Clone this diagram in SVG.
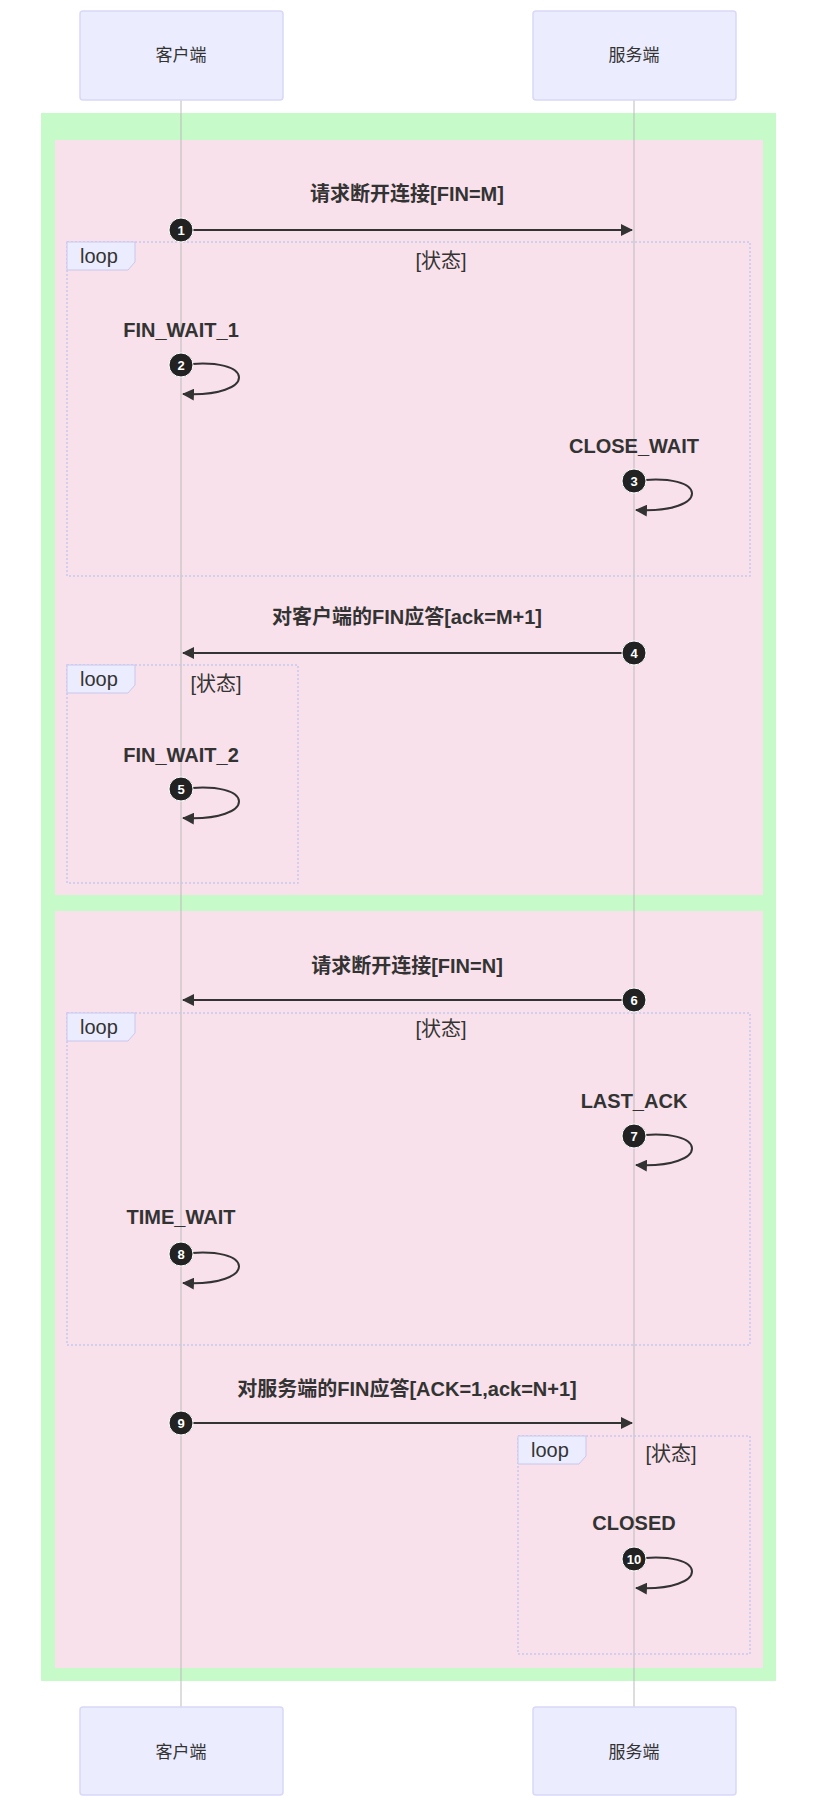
<svg xmlns="http://www.w3.org/2000/svg" width="838" height="1796" viewBox="0 0 838 1796">
<style>
.actor{fill:#ECECFF;stroke:#d8d8f8;stroke-width:1.5}
.at{font-family:"Liberation Sans","Noto Sans CJK SC",sans-serif;font-size:17px;fill:#333;text-anchor:middle}
.life{stroke:#bbb;stroke-width:1}
.mt{font-family:"Liberation Sans","Noto Sans CJK SC",sans-serif;font-size:20px;font-weight:bold;fill:#333;text-anchor:middle}
.msg{stroke:#333;stroke-width:2;fill:none}
.frame{fill:none;stroke:#c8c8f0;stroke-width:1.5;stroke-dasharray:2,2}
.tab{fill:#ECECFF;stroke:#c8c8f0;stroke-width:1}
.lt{font-family:"Liberation Sans","Noto Sans CJK SC",sans-serif;font-size:20px;fill:#333}
.num{fill:#222;stroke:#fff;stroke-width:1}
.nt{font-family:"Liberation Sans",sans-serif;font-size:13px;font-weight:bold;fill:#fff;text-anchor:middle}
</style>
<defs>
<marker id="ah" viewBox="0 0 12 12" refX="11" refY="6" markerWidth="12" markerHeight="12" markerUnits="userSpaceOnUse" orient="auto"><path d="M0,0 L12,6 L0,12 z" fill="#333"/></marker>
</defs>
<rect x="41" y="113" width="735" height="1568" fill="#C6FAC8"/>
<rect x="55" y="140" width="708" height="755" fill="#F8E1EB"/>
<rect x="55" y="911" width="708" height="757" fill="#F8E1EB"/>
<g id="lifelines">
<line class="life" x1="181" y1="100" x2="181" y2="1707"/>
<line class="life" x1="634" y1="100" x2="634" y2="1707"/>
</g>
<g id="actor-client-top"><rect class="actor" x="80" y="11" width="203" height="89" rx="3"/><text class="at" x="181" y="61">客户端</text></g>
<g id="actor-server-top"><rect class="actor" x="533" y="11" width="203" height="89" rx="3"/><text class="at" x="634" y="61">服务端</text></g>
<g id="actor-client-bottom"><rect class="actor" x="80" y="1707" width="203" height="88" rx="3"/><text class="at" x="181" y="1758">客户端</text></g>
<g id="actor-server-bottom"><rect class="actor" x="533" y="1707" width="203" height="88" rx="3"/><text class="at" x="634" y="1758">服务端</text></g>
<g id="loop1"><rect class="frame" x="67" y="242" width="683" height="334"/><polygon class="tab" points="67,242 135,242 135,262 128,270 67,270"/><text class="lt" x="80" y="263">loop</text><text class="lt" x="441" y="268" text-anchor="middle">[状态]</text></g>
<g id="loop2"><rect class="frame" x="67" y="665" width="231" height="218"/><polygon class="tab" points="67,665 135,665 135,685 128,693 67,693"/><text class="lt" x="80" y="686">loop</text><text class="lt" x="216" y="691" text-anchor="middle">[状态]</text></g>
<g id="loop3"><rect class="frame" x="67" y="1013" width="683" height="332"/><polygon class="tab" points="67,1013 135,1013 135,1033 128,1041 67,1041"/><text class="lt" x="80" y="1034">loop</text><text class="lt" x="441" y="1036" text-anchor="middle">[状态]</text></g>
<g id="loop4"><rect class="frame" x="518" y="1436" width="232" height="218"/><polygon class="tab" points="518,1436 586,1436 586,1456 579,1464 518,1464"/><text class="lt" x="531" y="1457">loop</text><text class="lt" x="671" y="1461" text-anchor="middle">[状态]</text></g>
<g id="connectors">
<text class="mt" x="407" y="201">请求断开连接[FIN=M]</text>
<line class="msg" x1="181" y1="230" x2="632" y2="230" marker-end="url(#ah)"/>
<text class="mt" x="181" y="337">FIN_WAIT_1</text>
<path class="msg" d="M181,365 C258,355 258,398 183,394" marker-end="url(#ah)"/>
<text class="mt" x="634" y="453">CLOSE_WAIT</text>
<path class="msg" d="M634,481 C711,471 711,514 636,510" marker-end="url(#ah)"/>
<text class="mt" x="407" y="624">对客户端的FIN应答[ack=M+1]</text>
<line class="msg" x1="634" y1="653" x2="183" y2="653" marker-end="url(#ah)"/>
<text class="mt" x="181" y="762">FIN_WAIT_2</text>
<path class="msg" d="M181,789 C258,779 258,822 183,818" marker-end="url(#ah)"/>
<text class="mt" x="407" y="973">请求断开连接[FIN=N]</text>
<line class="msg" x1="634" y1="1000" x2="183" y2="1000" marker-end="url(#ah)"/>
<text class="mt" x="634" y="1108">LAST_ACK</text>
<path class="msg" d="M634,1136 C711,1126 711,1169 636,1165" marker-end="url(#ah)"/>
<text class="mt" x="181" y="1224">TIME_WAIT</text>
<path class="msg" d="M181,1254 C258,1244 258,1287 183,1283" marker-end="url(#ah)"/>
<text class="mt" x="407" y="1396">对服务端的FIN应答[ACK=1,ack=N+1]</text>
<line class="msg" x1="181" y1="1423" x2="632" y2="1423" marker-end="url(#ah)"/>
<text class="mt" x="634" y="1530">CLOSED</text>
<path class="msg" d="M634,1559 C711,1549 711,1592 636,1588" marker-end="url(#ah)"/>
</g>
<g id="seq">
<circle class="num" cx="181" cy="230" r="12"/><text class="nt" x="181" y="235">1</text>
<circle class="num" cx="181" cy="365" r="12"/><text class="nt" x="181" y="370">2</text>
<circle class="num" cx="634" cy="481" r="12"/><text class="nt" x="634" y="486">3</text>
<circle class="num" cx="634" cy="653" r="12"/><text class="nt" x="634" y="658">4</text>
<circle class="num" cx="181" cy="789" r="12"/><text class="nt" x="181" y="794">5</text>
<circle class="num" cx="634" cy="1000" r="12"/><text class="nt" x="634" y="1005">6</text>
<circle class="num" cx="634" cy="1136" r="12"/><text class="nt" x="634" y="1141">7</text>
<circle class="num" cx="181" cy="1254" r="12"/><text class="nt" x="181" y="1259">8</text>
<circle class="num" cx="181" cy="1423" r="12"/><text class="nt" x="181" y="1428">9</text>
<circle class="num" cx="634" cy="1559" r="12"/><text class="nt" x="634" y="1564">10</text>
</g>
</svg>
